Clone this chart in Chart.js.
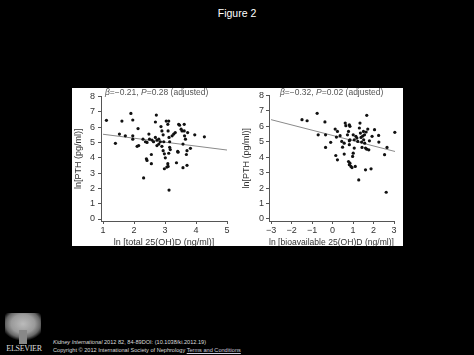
<!DOCTYPE html>
<html>
<head>
<meta charset="utf-8">
<script src="https://cdn.jsdelivr.net/npm/chart.js@4/dist/chart.umd.min.js"></script>
<style>
  html, body { margin:0; padding:0; background:#000; width:474px; height:355px; overflow:hidden; font-family:"Liberation Sans", Arial, sans-serif; }
  #title { position:absolute; left:0; width:474px; top:7px; text-align:center; color:#fff; font-size:10.5px; }
  #panel { position:absolute; left:72px; top:88px; width:331px; height:158px; background:#fff; overflow:hidden; }
  #c1 { position:absolute; left:0; top:0; }
  #c2 { position:absolute; left:163px; top:0; }
  #logo { position:absolute; left:5px; top:313px; width:36px; height:31px;
          background: radial-gradient(ellipse 60% 55% at 50% 35%, #bbb 0%, #9a9a9a 55%, #666 80%, #000 100%); }
  #trunk { position:absolute; left:19px; top:330px; width:8px; height:14px; background:#888; }
  #logotxt { position:absolute; left:3px; top:344px; width:42px; text-align:center; color:#ddd; font-family:"Liberation Serif", serif; font-size:8px; letter-spacing:-0.3px; }
  .foot { position:absolute; left:53px; color:#ddd; font-size:5.6px; white-space:nowrap; }
  .foot a { color:#ccd; text-decoration:underline; }
</style>
</head>
<body>
<div id="title">Figure 2</div>
<div id="panel">
  <canvas id="c1" width="163" height="162"></canvas>
  <canvas id="c2" width="168" height="162"></canvas>
</div>
<div id="logo"></div>
<div id="trunk"></div>
<div id="logotxt">ELSEVIER</div>
<div class="foot" style="top:339px;"><i>Kidney International</i> 2012 82, 84-89DOI: (10.1038/ki.2012.19)</div>
<div class="foot" style="top:347px;">Copyright © 2012 International Society of Nephrology <a>Terms and Conditions</a></div>
<script>
// ---- Left panel: ln[total 25(OH)D] vs ln[PTH] ----
const totalX = [1.11,1.40,1.53,1.61,1.72,1.90,1.96,1.96,1.96,2.13,2.10,2.15,2.29,2.37,2.42,2.48,2.50,2.40,2.42,2.56,
  2.56,2.31,2.58,2.63,2.69,2.72,2.69,2.74,2.74,2.80,2.80,2.85,2.87,2.90,2.94,2.90,2.96,2.94,2.98,3.01,
  2.98,3.06,3.04,3.09,3.12,3.10,3.13,3.15,3.15,3.17,3.12,3.09,3.10,3.13,3.23,3.28,3.33,3.37,3.41,3.42,
  3.44,3.47,3.52,3.55,3.58,3.58,3.62,3.63,3.62,3.66,3.71,3.71,3.73,3.82,3.96,4.27,3.69];
const totalPTH = [6.44,4.94,5.54,6.39,5.43,6.89,6.46,5.43,5.21,5.90,4.74,4.79,5.21,5.04,5.00,5.54,5.21,3.93,3.82,4.21,
  3.61,2.68,5.15,5.04,5.32,6.78,6.33,5.15,4.79,4.89,5.21,5.04,6.03,5.75,5.49,4.74,5.04,4.46,4.25,3.99,
  3.28,3.39,6.39,6.18,6.39,5.75,5.32,5.04,4.68,4.53,4.29,3.61,3.43,1.89,5.43,5.54,5.64,3.67,4.42,4.36,
  6.18,6.12,5.86,5.75,4.89,3.35,5.75,5.43,6.18,5.21,3.50,4.46,5.64,4.61,5.49,5.36,4.21];
const totalFitX = [1, 5];
const totalFitY = [5.53, 4.50];
const totalTicksX = [1, 2, 3, 4, 5];

// ---- Right panel: ln[bioavailable 25(OH)D] vs ln[PTH] ----
const bioX = [-1.49,-1.24,-0.75,-0.70,-0.37,-0.34,-0.34,-0.09,0.13,0.24,0.19,0.16,0.24,0.37,0.45,0.49,0.57,0.57,0.62,0.65,
  0.73,0.78,0.82,0.85,0.82,0.85,0.82,0.78,0.82,0.90,0.85,0.95,1.01,0.98,1.06,1.01,1.06,1.11,1.23,1.28,
  1.31,1.34,1.36,1.39,1.42,1.44,1.47,1.51,1.52,1.56,1.57,1.61,1.64,1.67,1.67,1.61,1.72,1.77,1.80,1.93,
  1.88,2.05,2.25,2.26,2.54,2.66,2.62,3.04,1.14,1.19];
const bioPTH = [6.43,6.36,6.84,5.45,6.28,5.45,4.63,4.96,5.82,5.67,5.30,4.11,3.83,5.39,5.02,4.65,4.20,4.91,6.21,6.04,
  5.45,5.67,6.10,6.00,5.06,5.13,4.81,3.72,3.51,3.40,3.61,3.33,4.26,4.05,4.59,5.45,5.13,3.40,5.02,2.53,
  5.89,6.21,5.56,5.28,4.98,4.63,5.37,5.67,5.13,5.45,4.91,4.59,5.63,6.71,4.52,3.18,5.82,4.48,5.06,5.35,
  3.25,5.78,5.41,4.98,4.16,4.63,1.73,5.61,5.35,5.24];
const bioFitX = [-3, 3.05];
const bioFitY = [6.43, 4.37];
const bioTicksX = [-3, -2, -1, 0, 1, 2, 3];

const pthTicks = [0, 1, 2, 3, 4, 5, 6, 7, 8];
const yTitle = 'ln[PTH (pg/ml)]';
const totalTitle = 'ln [total 25(OH)D (ng/ml)]';
const bioTitle = 'ln [bioavailable 25(OH)D (ng/ml)]';
const totalAnnot = [['β', true], ['=−0.21, ', false], ['P', true], ['=0.28 (adjusted)', false]];
const bioAnnot = [['β', true], ['=−0.32, ', false], ['P', true], ['=0.02 (adjusted)', false]];

const FONT = '"Liberation Sans", Arial, sans-serif';
const TXT = '#333';

function pts(xs, ys) { return xs.map((x, i) => ({ x: x, y: ys[i] })); }

const annotPlugin = {
  id: 'annot',
  afterDraw(chart, args, opts) {
    const ctx = chart.ctx;
    ctx.save();
    ctx.fillStyle = '#555';
    ctx.textBaseline = 'middle';
    let x = chart.chartArea.left + opts.dx;
    const y = opts.y;
    for (const [s, it] of opts.parts) {
      ctx.font = (it ? 'italic ' : '') + '8.5px ' + FONT;
      ctx.fillText(s, x, y);
      x += ctx.measureText(s).width;
    }
    ctx.restore();
  }
};

function makeChart(id, xs, ys, fx, fy, xticks, xmin, xmax, xTitle, yAxisWidth, yTitlePad, tickPad, rightPad, annotParts, annotDx) {
  return new Chart(document.getElementById(id), {
    data: {
      datasets: [
        { type: 'scatter', data: pts(xs, ys), backgroundColor: '#111', borderColor: '#111', pointRadius: 1.6, pointBorderWidth: 0, order: 1, clip: false },
        { type: 'line', data: pts(fx, fy), borderColor: '#8a8a8a', borderWidth: 1, pointRadius: 0, order: 2, clip: false }
      ]
    },
    options: {
      responsive: false,
      animation: false,
      events: [],
      layout: { padding: { top: 7, right: rightPad, left: 0, bottom: 0 } },
      plugins: { legend: { display: false }, tooltip: { enabled: false }, annot: { parts: annotParts, dx: annotDx, y: 5 } },
      scales: {
        x: {
          type: 'linear', min: xmin, max: xmax,
          afterBuildTicks: (a) => { a.ticks = xticks.map(v => ({ value: v })); },
          afterFit: (s) => { s.height = 29; },
          grid: { drawOnChartArea: false, drawTicks: true, tickLength: 3, color: '#555' },
          border: { display: true, color: '#555', width: 1 },
          ticks: { color: TXT, font: { size: 9, family: FONT }, padding: 1, maxRotation: 0, autoSkip: false,
                   callback: (v) => (v < 0 ? '−' + Math.abs(v) : '' + v) },
          title: { display: true, text: xTitle, color: TXT, font: { size: 9, family: FONT }, padding: { top: 0, bottom: 2 } }
        },
        y: {
          type: 'linear', min: -0.13, max: 8,
          afterBuildTicks: (a) => { a.ticks = pthTicks.map(v => ({ value: v })); },
          afterFit: (s) => { s.width = yAxisWidth; },
          grid: { drawOnChartArea: false, drawTicks: true, tickLength: 3, color: '#555' },
          border: { display: true, color: '#555', width: 1 },
          ticks: { color: TXT, font: { size: 9, family: FONT }, padding: tickPad, autoSkip: false },
          title: { display: true, text: yTitle, color: TXT, font: { size: 9, family: FONT }, padding: { top: yTitlePad, bottom: 0 } }
        }
      }
    },
    plugins: [annotPlugin]
  });
}

makeChart('c1', totalX, totalPTH, totalFitX, totalFitY, totalTicksX, 0.935, 5, totalTitle, 29, 1, 3, 8, totalAnnot, 4);
makeChart('c2', bioX, bioPTH, bioFitX, bioFitY, bioTicksX, -3.1, 3, bioTitle, 34, 6, 2, 9, bioAnnot, 11);
</script>
</body>
</html>
